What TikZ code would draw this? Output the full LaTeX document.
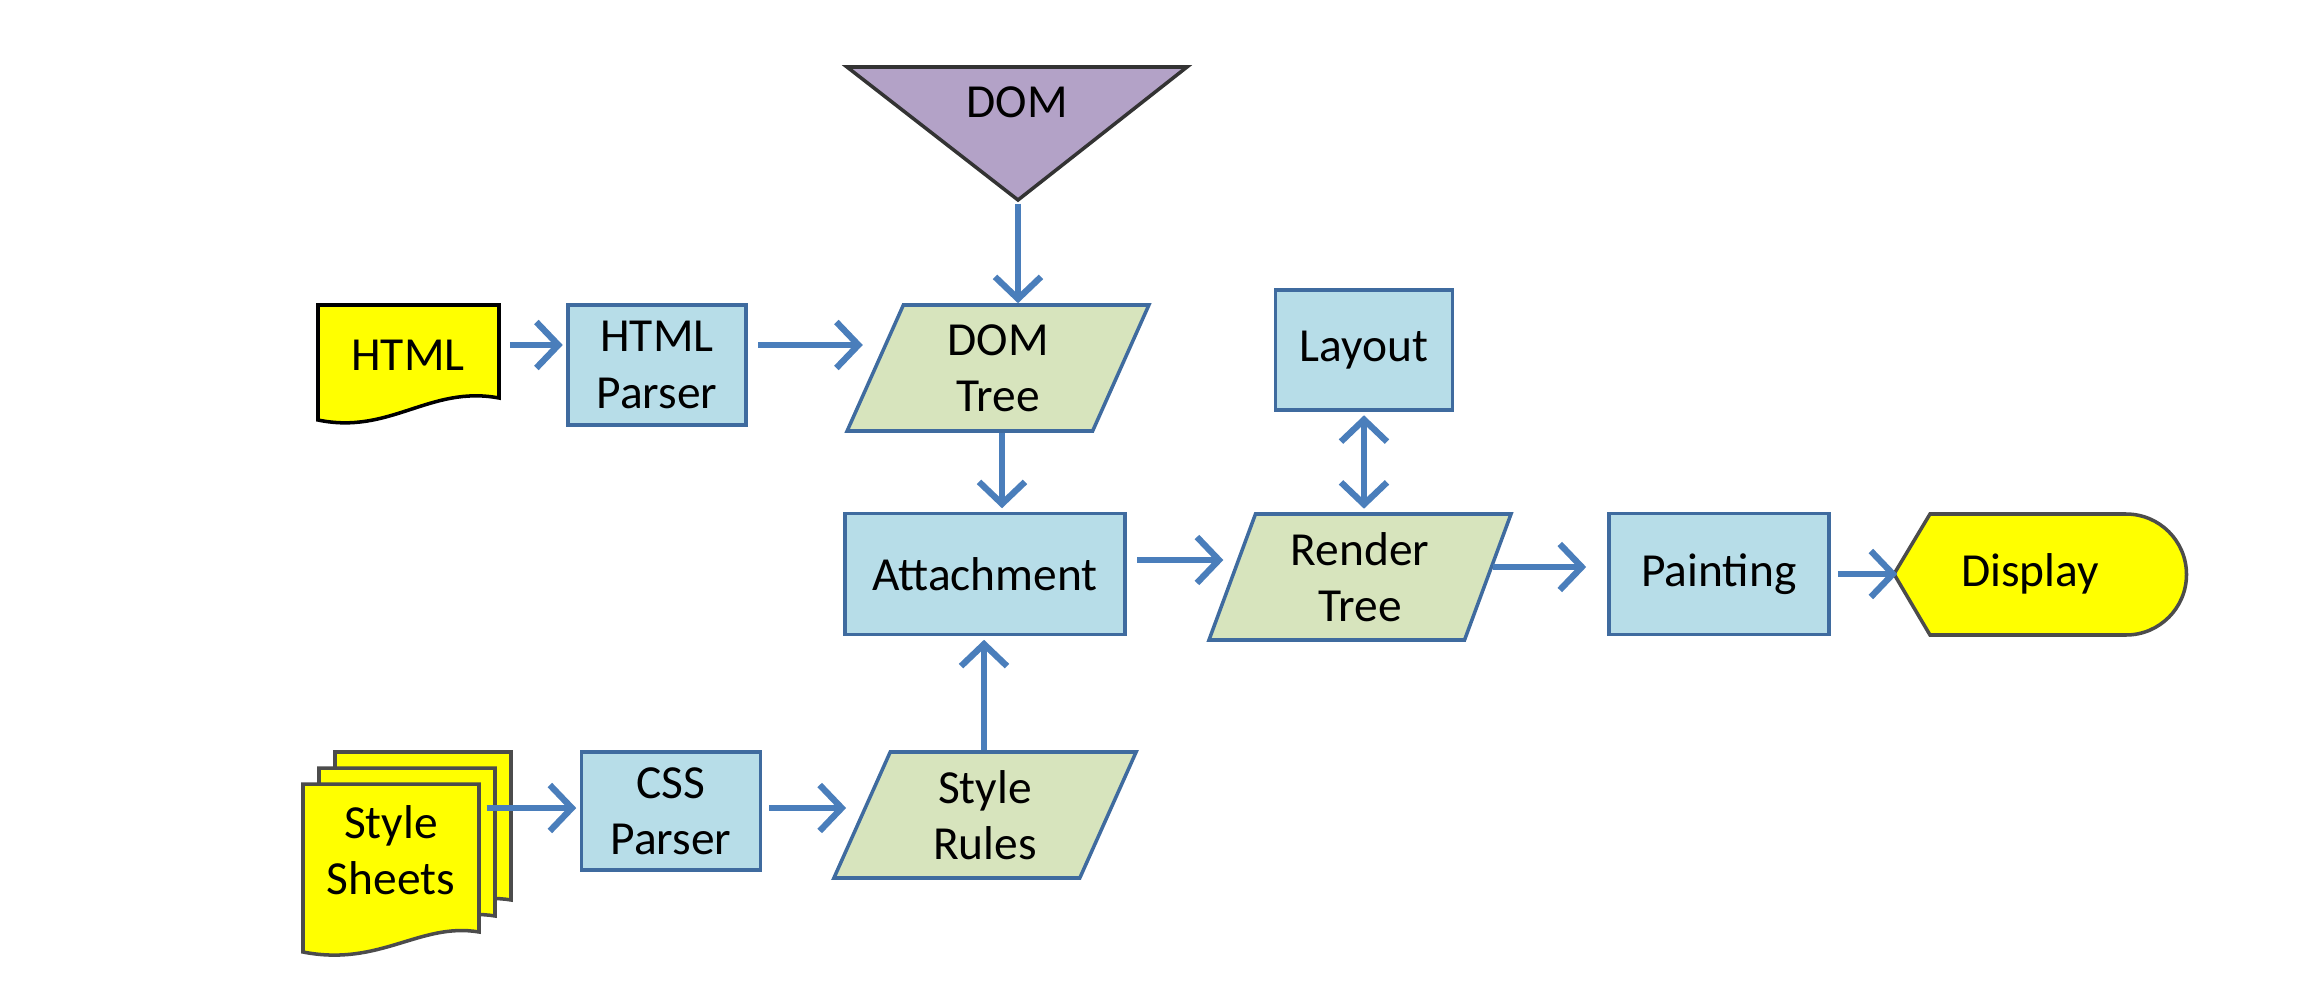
\documentclass[tikz,border=0pt]{standalone}
\usepackage{fontspec}
\setmainfont{Carlito}
\usetikzlibrary{arrows.meta,shapes.geometric}
\definecolor{boxblue}{RGB}{183,221,232}
\definecolor{edgeblue}{RGB}{74,126,187}
\definecolor{dataGreen}{RGB}{215,228,189}
\definecolor{docYellow}{RGB}{255,255,0}
\definecolor{domPurple}{RGB}{179,162,199}
\tikzset{
  txt/.style={font=\fontsize{13.5}{16}\selectfont, align=center, inner sep=0pt},
  proc/.style={txt, draw=edgeblue!85!black, fill=boxblue, line width=1pt},
  data/.style={txt, draw=edgeblue!85!black, fill=dataGreen, line width=1pt,
    trapezium, trapezium left angle=71, trapezium right angle=109,
    trapezium stretches=true, minimum width=3.03cm, minimum height=1.26cm},
  flow/.style={draw=edgeblue, line width=1.8pt, ->,
    >={Straight Barb[length=2.2mm,width=4.6mm,line width=1.8pt]}},
  sheet/.style={draw=black!70, fill=docYellow, line width=1pt}
}
\begin{document}
\begin{tikzpicture}
  \useasboundingbox (0, 0) rectangle (23.2, -9.9);

  % DOM source
  \draw[fill=domPurple, draw=black!80, line width=1pt] (8.47, -0.67) -- (11.87, -0.67) -- (10.18, -2.0) -- cycle;
  \node[txt] (dom) at (10.17, -1.02) {DOM};
  \coordinate (domtip) at (10.18, -2.0);

  % HTML document
  \draw[sheet, draw=black] (3.18, -3.05) -- (4.99, -3.05) -- (4.99, -3.98)
    .. controls (4.3, -3.85) and (3.9, -4.35) .. (3.18, -4.2) -- cycle;
  \node[txt, minimum width=1.81cm, minimum height=1.0cm] (html) at (4.08, -3.55) {HTML};

  % style sheets
  \foreach \dx/\dy in {0.32/0, 0.16/0.16, 0/0.32} {
    \draw[sheet] (3.03+\dx, -7.52-\dy) -- (4.79+\dx, -7.52-\dy) -- (4.79+\dx, -9.0-\dy)
      .. controls (4.2+\dx, -8.9-\dy) and (3.8+\dx, -9.35-\dy) .. (3.03+\dx, -9.2-\dy) -- cycle;
  }
  \node[txt, minimum width=1.76cm, minimum height=1.3cm] (sheets) at (3.91, -8.5) {Style\\Sheets};

  % processes
  \node[proc, minimum width=1.78cm, minimum height=1.2cm] (hparser) at (6.57, -3.65) {HTML\\Parser};
  \node[proc, minimum width=1.79cm, minimum height=1.18cm] (cparser) at (6.71, -8.11) {CSS\\Parser};
  \node[proc, minimum width=2.8cm, minimum height=1.21cm] (attach) at (9.85, -5.74) {Attachment};
  \node[proc, minimum width=1.77cm, minimum height=1.2cm] (layout) at (13.64, -3.5) {Layout};
  \node[proc, minimum width=2.2cm, minimum height=1.21cm] (paint) at (17.19, -5.74) {Painting};

  % data
  \node[data] (domtree) at (9.98, -3.68) {DOM\\Tree};
  \node[data] (render) at (13.6, -5.77) {Render\\Tree};
  \node[data] (rules) at (9.85, -8.15) {Style\\Rules};

  % display
  \draw[sheet] (18.94, -5.74) -- (19.3, -5.14) -- (21.26, -5.14)
    arc[start angle=90, end angle=-90, radius=0.605] -- (19.3, -6.35) -- cycle;
  \node[txt, minimum width=2.5cm, minimum height=1.21cm] (display) at (20.3, -5.74) {Display};

  % connectors
  \draw[flow, shorten <=1pt] (domtip) -- (domtip |- domtree.north);
  \draw[flow, shorten <=3pt, shorten >=1pt] (html.east |- 0,-3.45) -- (hparser.west |- 0,-3.45);
  \draw[flow, shorten <=3pt, shorten >=3pt] (hparser.east |- 0,-3.45) -- (domtree.west |- 0,-3.45);
  \draw[flow, shorten >=1pt] (domtree.south -| 10.02,0) -- (attach.north -| 10.02,0);
  \draw[flow, shorten >=1pt] (rules.north -| 9.84,0) -- (attach.south -| 9.84,0);
  \draw[flow, shorten <=2pt, shorten >=1pt] (sheets.east |- 0,-8.08) -- (cparser.west |- 0,-8.08);
  \draw[flow, shorten <=2pt, shorten >=4pt] (cparser.east |- 0,-8.08) -- (rules.west |- 0,-8.08);
  \draw[flow, shorten <=3pt, shorten >=2pt] (attach.east |- 0,-5.6) -- (render.west |- 0,-5.6);
  \draw[flow, <->, shorten <=1pt, shorten >=1pt]
    (render.north -| layout.south) -- (layout.south);
  \draw[flow, shorten <=1pt, shorten >=6pt] (render.east |- 0,-5.67) -- (paint.west |- 0,-5.67);
  \draw[flow, shorten <=2pt, shorten >=2pt] (paint.east) -- (display.west);
\end{tikzpicture}
\end{document}
